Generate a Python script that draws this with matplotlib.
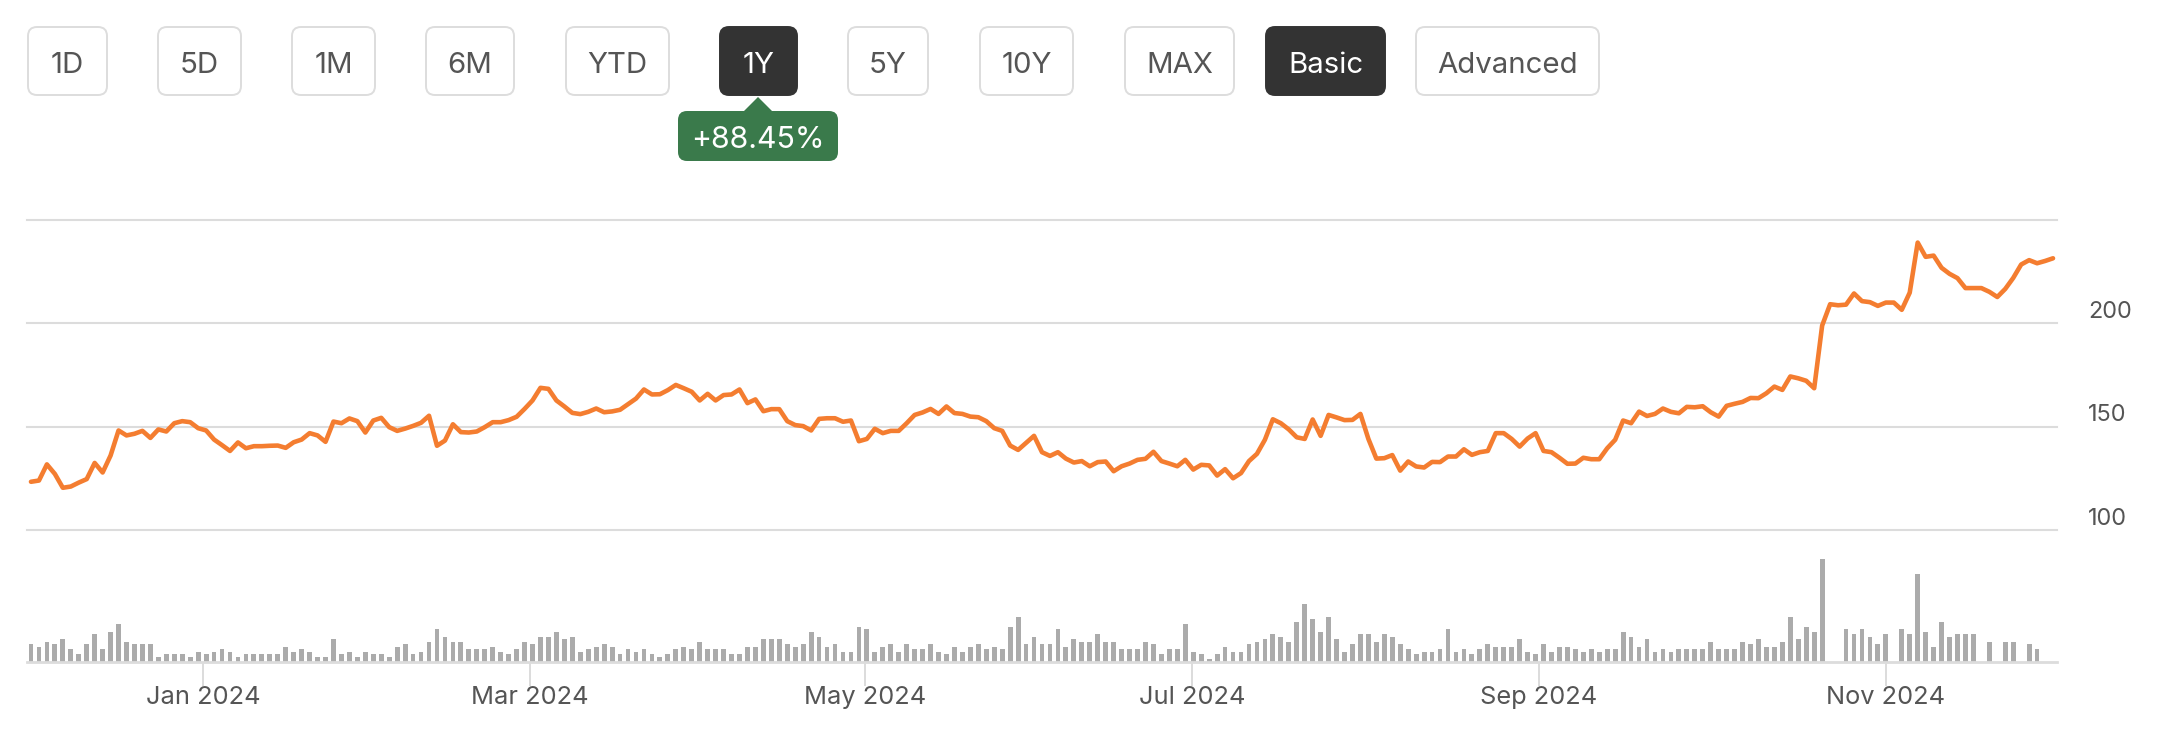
import matplotlib
matplotlib.use("Agg")
import matplotlib.pyplot as plt
from matplotlib.patches import FancyBboxPatch, Polygon

W, H = 2162, 734

# buttons
button_labels = ["1D", "5D", "1M", "6M", "YTD", "1Y", "5Y", "10Y", "MAX", "Basic", "Advanced"]
button_active = ["1Y", "Basic"]
button_edges = [(28, 107), (158, 241), (292, 375), (426, 514), (566, 669), (720, 797),
                (848, 928), (980, 1073), (1125, 1234), (1266, 1385), (1416, 1599)]
change_label = "+88.45%"

# price, one value per trading day
price = [
    123.4, 124.0, 131.8, 127.2, 120.5, 121.1, 123.0, 124.7, 132.5, 127.9, 136.1, 148.2, 145.8,
    146.6, 148.0, 144.6, 148.7, 147.7, 151.7, 152.7, 152.2, 149.3, 148.2, 143.8, 141.1, 138.3,
    142.4, 139.6, 140.6, 140.6, 140.8, 140.9, 139.8, 142.5, 143.8, 146.9, 145.8, 142.7, 152.5,
    151.7, 154.0, 152.7, 147.2, 153.0, 154.3, 149.8, 148.0, 149.1, 150.4, 151.9, 155.3, 140.8,
    143.3, 151.2, 147.4, 147.2, 147.7, 149.8, 152.2, 152.2, 153.2, 154.8, 158.6, 162.7, 168.8,
    168.3, 162.7, 159.8, 156.7, 156.1, 157.2, 158.8, 157.0, 157.4, 158.2, 160.9, 163.6, 168.0,
    165.6, 165.7, 167.7, 170.2, 168.6, 166.9, 162.7, 165.9, 162.7, 165.3, 165.6, 168.0, 161.4,
    163.2, 157.5, 158.5, 158.5, 152.7, 150.8, 150.3, 148.2, 153.8, 154.1, 154.1, 152.4, 153.0,
    143.0, 144.1, 149.0, 146.9, 148.0, 148.0, 151.7, 155.7, 156.9, 158.6, 156.2, 159.8, 156.6,
    156.2, 154.9, 154.6, 152.7, 149.3, 148.0, 140.9, 138.8, 142.2, 145.6, 137.7, 135.9, 137.7,
    134.6, 132.7, 133.4,
    130.9, 132.9, 133.2, 128.5, 130.9, 132.2, 134.0, 134.5, 137.9, 133.4, 132.2, 130.9, 134.0,
    129.3, 131.6, 131.3, 126.4, 129.5, 125.1, 127.6, 133.4, 136.9, 143.7, 153.6, 151.7, 148.7,
    144.9, 144.1, 153.5, 145.6, 155.7, 154.5, 153.2, 153.3, 156.2, 144.1, 134.6, 134.8, 136.3,
    128.8, 133.2, 130.8, 130.3, 133.0, 132.9, 135.6, 135.6, 139.1, 136.4, 137.7, 138.3, 146.9,
    146.9, 144.1, 140.4, 144.3, 146.9, 138.3, 137.7, 135.0, 132.1, 132.2, 135.0, 134.3, 134.3,
    139.6, 143.7,
    153.0, 151.7, 157.3, 155.2, 156.2, 158.8, 157.2, 156.5, 159.6, 159.4, 159.9, 157.0, 154.9,
    160.1, 161.1, 162.0, 163.9, 163.8, 166.2, 169.4, 167.8, 174.3, 173.4, 172.2, 168.6, 198.9,
    209.2, 208.7, 209.0, 214.4, 210.7, 210.2, 208.4, 210.0, 210.0, 206.5, 214.8, 239.0, 232.1,
    232.7, 226.8, 223.9, 221.8, 217.0, 217.0, 217.0, 215.2, 212.7, 216.6, 221.9, 228.4, 230.5,
    229.0, 230.1, 231.4,
]

# volume, relative units (0 = no bar that day)
volume = [
    53, 45, 60, 53, 68, 38, 23, 53, 83, 38, 90, 113, 60, 53, 53, 53, 15, 23, 23, 23, 15, 30, 23,
    30, 38, 30, 15, 23, 23, 23, 23, 23, 45, 30, 38, 30, 15, 15, 68, 23, 30, 15, 30, 23, 23, 15,
    45, 53, 23, 30, 60, 98, 75, 60, 60, 38, 38, 38, 45, 30, 23, 38, 60, 53, 75, 75, 90, 68, 75,
    30, 38, 45, 53, 45, 23, 38, 30, 38, 23, 15, 23, 38, 45, 38, 60, 38, 38,
    38, 23, 23, 45, 45, 68, 68, 68, 53, 45, 53, 90, 75, 45, 53, 30, 30, 105, 98, 30, 45, 53, 30,
    53, 38, 38, 53, 30, 23, 45, 30, 45, 53, 38, 45, 38, 105, 135, 53, 75, 53, 53, 98, 45, 68, 60,
    60, 83, 60, 60, 38, 38, 38, 60, 53, 23, 38, 38, 113, 30, 23, 8, 23, 45, 30, 30, 53, 60, 68,
    83, 75, 60, 120, 173, 128, 90, 135, 68, 30, 53, 83, 83, 60, 83, 75, 53, 38, 23, 30, 30, 38,
    98, 30, 38, 23, 38, 53, 45, 45, 45, 68, 30, 23, 53, 30, 45, 45, 38, 30, 38, 30, 38, 38, 90,
    75, 45, 68, 30, 38, 30, 38, 38, 38, 38, 60, 38, 38, 38, 60, 53, 68, 45, 45, 60, 135, 68, 105,
    90, 310, 0, 0, 98, 83, 98, 75, 53, 83, 0, 98, 83, 263, 90, 45, 120, 75, 83, 83, 83, 0, 60, 0,
    60, 60, 0, 53, 38, 0, 0,
]

y_ticks = [100, 150, 200, 250]
y_labels = ["100", "150", "200"]
x_tick_pos = [21.6, 62.7, 104.8, 145.9, 189.4, 233.0]
x_tick_labels = ["Jan 2024", "Mar 2024", "May 2024", "Jul 2024", "Sep 2024", "Nov 2024"]

GRID = "#dcdcdc"
TEXT = "#555555"
days = list(range(len(price)))


def px_axes(fig, left, top, right, bottom):
    return fig.add_axes([left / W, 1 - bottom / H, (right - left) / W, (bottom - top) / H])


fig = plt.figure(figsize=(W / 100, H / 100), dpi=100, facecolor="white")

# price panel
ax = px_axes(fig, 27, 219.8, 2057, 530.2)
ax.plot(days, price, color="#f47d30", lw=3.3, solid_joinstyle="round", solid_capstyle="round",
        clip_on=False, zorder=3)
ax.set_xlim(-0.5, 254.5)
ax.set_ylim(100, 250)
ax.set_yticks(y_ticks)
ax.set_yticklabels([])
ax.set_xticks([])
ax.tick_params(length=0)
ax.grid(True, axis="y", color=GRID, lw=1.5)
for gl in ax.get_ygridlines():
    gl.set_clip_on(False)
for s in ax.spines.values():
    s.set_visible(False)
for val, lab in zip(y_ticks, y_labels):
    ax.annotate(lab, xy=(1, val), xycoords=("axes fraction", "data"), xytext=(22.3, 4.0),
                textcoords="offset points", ha="left", va="baseline", fontsize=16.9,
                family="Inter", color=TEXT)

# volume panel
vax = px_axes(fig, 27, 540, 2057, 662)
vax.bar(days, volume, width=0.6, color="#ababab", linewidth=0)
vax.set_xlim(-0.5, 254.5)
vax.set_ylim(0, 366)
vax.set_yticks([])
vax.set_xticks(x_tick_pos)
vax.set_xticklabels(x_tick_labels, family="Inter", fontsize=18.3, color=TEXT)
vax.tick_params(axis="x", length=17.0, width=1.4, color=GRID, pad=0.5)
for name, s in vax.spines.items():
    s.set_visible(name == "bottom")
vax.spines["bottom"].set_color(GRID)
vax.spines["bottom"].set_linewidth(2.0)

# range buttons, drawn in pixel coordinates
ui = fig.add_axes([0, 0, 1, 1], facecolor="none")
ui.set_xlim(0, W)
ui.set_ylim(H, 0)
ui.axis("off")
for lab, (x0, x1) in zip(button_labels, button_edges):
    active = lab in button_active
    ui.add_patch(FancyBboxPatch((x0 + 9, 27 + 9), x1 - x0 - 18, 68 - 18,
                                boxstyle="round,pad=9,rounding_size=9",
                                fc="#333333" if active else "white",
                                ec="#333333" if active else "#dddddd", lw=1.4))
    ui.text((x0 + x1) / 2, 72.7, lab, ha="center", va="baseline", family="Inter", fontsize=21.2,
            color="white" if active else TEXT)

# change badge under the 1Y button
ui.add_patch(FancyBboxPatch((678 + 9, 111 + 9), 160 - 18, 50 - 18,
                            boxstyle="round,pad=9,rounding_size=9", fc="#3a7a4b", ec="none"))
ui.add_patch(Polygon([(743, 112), (758, 97), (773, 112)], closed=True, fc="#3a7a4b", ec="none"))
ui.text(758, 148, change_label, ha="center", va="baseline", family="Inter", fontsize=21.8,
        color="white")

fig.savefig("out.png", dpi=100)
